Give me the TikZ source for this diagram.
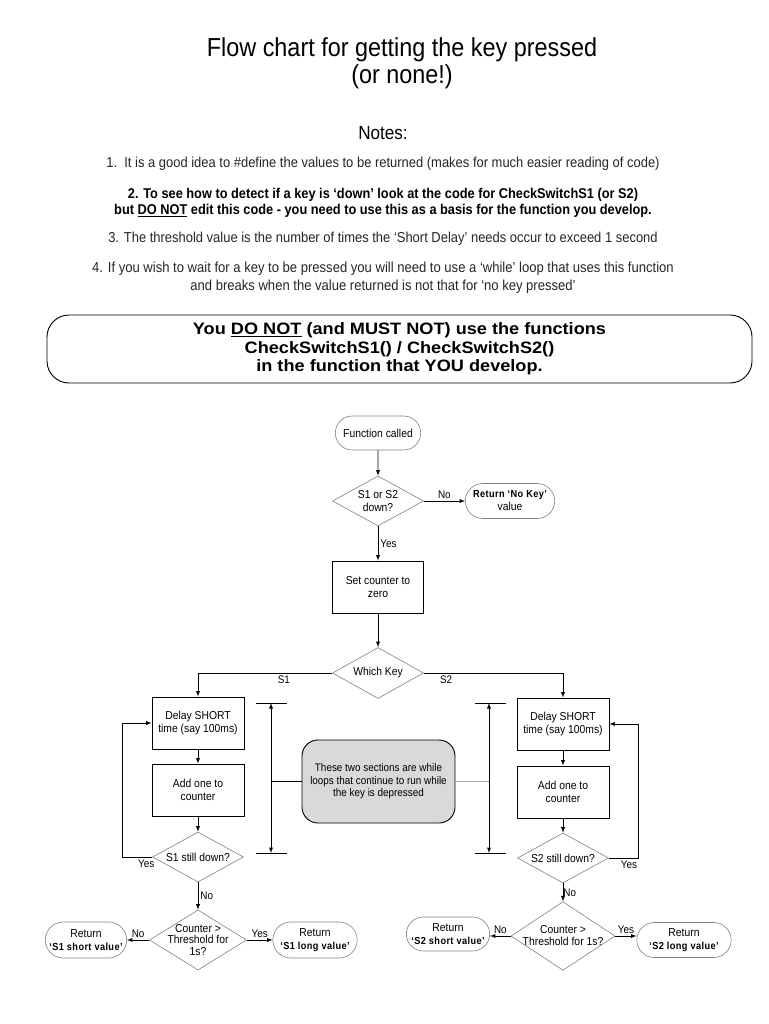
\documentclass[tikz,border=0pt]{standalone}
\usepackage{fontspec}
\setmainfont{Liberation Sans}[FakeStretch=0.9]
\newfontfamily\boxfont{Liberation Sans}[FakeStretch=1.1]
\newfontfamily\quotefont{Liberation Sans}[FakeStretch=0.9,LetterSpace=4]
\usetikzlibrary{shapes.geometric,shapes.misc,positioning}
\newcommand{\fcfont}{\fontsize{11.5}{13}\selectfont}
\newcommand{\lblfont}{\fontsize{11}{12}\selectfont}
\newcommand{\notefont}{\fontsize{14.4}{18}\selectfont}
\newcommand{\qtext}[1]{{\quotefont\fontsize{10.2}{12}\selectfont\bfseries #1}}

\begin{document}
\begin{tikzpicture}[x=1pt,y=-1pt,
    line width=0.9pt,
    >=latex,
    procbox/.style={draw,rectangle,minimum width=92pt,minimum height=52pt,align=center,font=\fcfont},
    decide/.style={draw=gray,line width=0.6pt,diamond,inner sep=-8pt,minimum width=91pt,minimum height=50pt,align=center,font=\fcfont},
    termbox/.style={draw=gray,line width=0.6pt,rounded rectangle,minimum width=92pt,minimum height=34pt,align=center,font=\fcfont},
    lbl/.style={font=\lblfont,inner sep=2pt},
    notetext/.style={align=center,text=black!85,font=\notefont}
    ]
    \useasboundingbox (0,0) rectangle (768,1024);

    % heading and notes
    \node (title) [align=center,font=\fontsize{26}{27}\selectfont] at (402,63) {Flow chart for getting the key pressed\\(or none!)};
    \node (notes) [font=\fontsize{19}{20}\selectfont] at (383,133) {Notes:};
    \node (note1) [notetext] at (383,164) {1.\ \ It is a good idea to \#define the values to be returned (makes for much easier reading of code)};
    \node (note2) [align=center,font=\fontsize{14.2}{15.5}\selectfont\bfseries] at (383,203) {2. To see how to detect if a key is ‘down’ look at the code for CheckSwitchS1 (or S2)\\but \underline{DO NOT} edit this code - you need to use this as a basis for the function you develop.};
    \node (note3) [notetext] at (383,239) {3. The threshold value is the number of times the ‘Short Delay’ needs occur to exceed 1 second};
    \node (note4) [notetext,font=\fontsize{14.5}{18}\selectfont] at (383,278) {4. If you wish to wait for a key to be pressed you will need to use a ‘while’ loop that uses this function\\and breaks when the value returned is not that for ‘no key pressed’};

    \node (warn) [draw,rounded corners=22pt,minimum width=705pt,minimum height=68pt,align=center,font=\boxfont\fontsize{16.5}{18.5}\selectfont\bfseries] at (399.5,349) {You \underline{DO NOT} (and MUST NOT) use the functions\\CheckSwitchS1() / CheckSwitchS2()\\in the function that YOU develop.};

    % top of the chart
    \node (fcall) [termbox] at (378,433) {Function called};
    \node (keydown) [decide] at (378,501) {S1 or S2\\down?};
    \node (nokey) [termbox,minimum width=96pt,minimum height=35pt] at (510,501) {\qtext{Return ‘No Key’}\\value};
    \node (setzero) [procbox,minimum width=91pt] at (378,587) {Set counter to\\zero};
    \node (whichkey) [decide,minimum height=51pt] at (378,673) {Which Key};

    % S1 side
    \node (delayA) [procbox] at (198,723) {Delay SHORT\\time (say 100ms)};
    \node (addA) [procbox] at (198,790) {Add one to\\counter};
    \node (stillA) [decide] at (198,857) {S1 still down?};
    \node (countA) [decide,minimum width=97pt,minimum height=56pt,font=\fontsize{11.5}{11.5}\selectfont] at (198,940) {Counter >\\Threshold for\\1s?};
    \node (shortA) [termbox,minimum width=88pt,minimum height=36pt] at (86,940) {Return\\\qtext{‘S1 short value’}};
    \node (longA) [termbox,minimum width=91pt,minimum height=36pt] at (315,940) {Return\\\qtext{‘S1 long value’}};

    % S2 side
    \node (delayB) [procbox] at (563,724) {Delay SHORT\\time (say 100ms)};
    \node (addB) [procbox] at (563,792) {Add one to\\counter};
    \node (stillB) [decide] at (563,858) {S2 still down?};
    \node (countB) [decide,minimum width=104pt,minimum height=58pt,font=\fontsize{11.5}{12}\selectfont] at (563,936) {Counter >\\Threshold for 1s?};
    \node (shortB) [termbox,minimum width=90pt,minimum height=34pt] at (448,934) {Return\\\qtext{‘S2 short value’}};
    \node (longB) [termbox,minimum width=101pt,minimum height=35pt] at (684,940) {Return\\\qtext{‘S2 long value’}};

    % note in the middle
    \node (callout) [draw,fill=gray!30,rounded corners=16pt,minimum width=153pt,minimum height=83pt,align=center,font=\fontsize{11}{12.5}\selectfont] at (378.5,781.5) {These two sections are while\\loops that continue to run while\\the key is depressed};
    \coordinate (dimAtop) at (271,703);
    \coordinate (dimAbot) at (271,853);
    \coordinate (dimBtop) at (489,703);
    \coordinate (dimBbot) at (489,853);

    % the edges
    \draw[->] (fcall) -- (keydown);
    \draw[->] (keydown.east) -- node[lbl,above] {No} (nokey);
    \draw[->] (keydown.south) -- node[lbl,right] {Yes} (setzero);
    \draw[->] (setzero) -- (whichkey);
    \draw[->] (whichkey.west) -| node[lbl,below,pos=0.18] {S1} (delayA.north);
    \draw[->] (whichkey.east) -| node[lbl,below,pos=0.08] {S2} (delayB.north);

    \draw[->] (delayA) -- (addA);
    \draw[->] (addA) -- (stillA);
    \draw[->] (stillA.west) -- node[lbl,below,pos=0.2] {Yes} ++(-30,0) |- (delayA.west);
    \draw[->] (stillA.south) -- node[lbl,right] {No} (countA.north);
    \draw[->] (countA.west) -- node[lbl,above] {No} (shortA.east);
    \draw[->] (countA.east) -- node[lbl,above] {Yes} (longA.west);

    \draw[->] (delayB) -- (addB);
    \draw[->] (addB) -- (stillB);
    \draw[->] (stillB.east) -- node[lbl,below,pos=0.67] {Yes} ++(30,0) |- (delayB.east);
    \draw[->] (stillB.south) -- node[lbl,right,inner sep=0pt] {No} (countB.north);
    \draw[->] (countB.west) -- node[lbl,above] {No} (countB.west -| shortB.east);
    \draw[->] (countB.east) -- node[lbl,above] {Yes} (countB.east -| longB.west);

    % the two brackets
    \draw[<->] (dimAtop) -- (dimAbot);
    \draw ([xshift=-15pt]dimAtop) -- ([xshift=16pt]dimAtop);
    \draw ([xshift=-15pt]dimAbot) -- ([xshift=16pt]dimAbot);
    \draw (dimAtop |- callout.west) -- (callout.west);
    \draw[<->] (dimBtop) -- (dimBbot);
    \draw ([xshift=-14pt]dimBtop) -- ([xshift=17pt]dimBtop);
    \draw ([xshift=-14pt]dimBbot) -- ([xshift=17pt]dimBbot);
    \draw[gray!70,line width=0.5pt] (callout.east) -- (dimBtop |- callout.east);
\end{tikzpicture}
\end{document}
